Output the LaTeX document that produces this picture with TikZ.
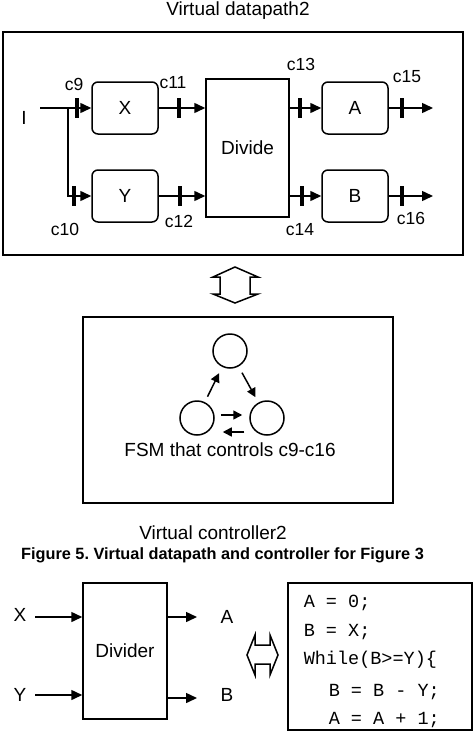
\documentclass[tikz,border=0pt]{standalone}
\usepackage{fontspec}
\setmainfont{Liberation Sans}
\setmonofont{Liberation Mono}
\usetikzlibrary{arrows.meta}
\frenchspacing

\begin{document}
\begin{tikzpicture}
        [x=1pt,y=-1pt,line width=1.5pt,
         every node/.style={font=\fontsize{19}{21}\selectfont,inner sep=0pt},
         reg/.style={draw,rounded corners=6pt,minimum width=66pt,minimum height=52pt},
         blk/.style={draw},
         bar/.style={fill=black,minimum width=4pt,minimum height=20pt},
         sig/.style={-{Triangle[length=11pt,width=10pt]}},
         fsm/.style={-{Triangle[length=9pt,width=9pt]}},
         st/.style={draw,circle,minimum size=34pt},
         lbl/.style={font=\fontsize{17.5}{19}\selectfont},
         code/.style={anchor=west,font=\ttfamily\fontsize{18.5}{20}\selectfont}]
        \useasboundingbox (0,0) rectangle (474,731);

        % virtual datapath
        \node (dptitle) at (238,11) {Virtual datapath2};
        \node[blk,line width=2pt,minimum width=460pt,minimum height=223pt] (dp) at (233,143.5) {};
        \node (I) at (24,118) {I};
        \node[reg] (X) at (125,108) {X};
        \node[reg] (Y) at (125,196) {Y};
        \node[blk,minimum width=83pt,minimum height=138pt] (div) at (247.5,148) {Divide};
        \node[reg] (A) at (355,108) {A};
        \node[reg] (B) at (355,196) {B};
        \coordinate (in) at (40,108);
        \coordinate (fork) at (68,108);
        \coordinate (outA) at (433,108);
        \coordinate (outB) at (433,196);

        \draw (in) -- (fork);
        \draw[sig] (fork) -- (X);
        \draw[sig] (fork) |- (Y);
        \draw[sig] (X) -- (X -| div.west);
        \draw[sig] (Y) -- (Y -| div.west);
        \draw[sig] (A -| div.east) -- (A);
        \draw[sig] (B -| div.east) -- (B);
        \draw[sig] (A) -- (outA);
        \draw[sig] (B) -- (outB);

        \node[bar] (bar9) at (77,108) {};
        \node[bar] (bar10) at (74,196) {};
        \node[bar] (bar11) at (179,108) {};
        \node[bar] (bar12) at (180,196) {};
        \node[bar] (bar13) at (300,108) {};
        \node[bar] (bar14) at (302,196) {};
        \node[bar] (bar15) at (402,108) {};
        \node[bar] (bar16) at (402,196) {};
        \node[lbl] (lab9) at (74,84) {c9};
        \node[lbl] (lab10) at (65,229) {c10};
        \node[lbl] (lab11) at (173,83) {c11};
        \node[lbl] (lab12) at (179,221) {c12};
        \node[lbl] (lab13) at (301,64) {c13};
        \node[lbl] (lab14) at (300,230) {c14};
        \node[lbl] (lab15) at (407,77) {c15};
        \node[lbl] (lab16) at (411,218) {c16};

        % hollow arrow between datapath and controller
        \draw (235,267) -- (258,277) -- (250,277) -- (250,294) -- (258,294) -- (235,303)
              -- (213,294) -- (220,294) -- (220,277) -- (213,277) -- cycle;

        % virtual controller
        \node[blk,minimum width=310pt,minimum height=186pt] (ctl) at (238,410) {};
        \node[st] (s1) at (230,351) {};
        \node[st] (s2) at (197,418) {};
        \node[st] (s3) at (267,418) {};
        \draw[fsm,shorten <=6pt,shorten >=7pt] (s2) -- (s1);
        \draw[fsm,shorten <=7pt,shorten >=6pt] (s1) -- (s3);
        \draw[fsm] ([xshift=6pt,yshift=3pt]s2.east) -- ([xshift=-7pt,yshift=3pt]s3.west);
        \draw[fsm] ([xshift=-5pt,yshift=-14pt]s3.west) -- ([xshift=8pt,yshift=-14pt]s2.east);
        \node (fsmtxt) at (230,450) {FSM that controls c9-c16};
        \node (ctltitle) at (213,533) {Virtual controller2};

        \node[font=\bfseries\fontsize{16.3}{18}\selectfont] (cap) at (222.5,555)
            {Figure 5. Virtual datapath and controller for Figure 3};

        % divider and its program
        \node[blk,minimum width=84pt,minimum height=136pt] (dvd) at (125,651) {Divider};
        \node (xin) at (20,615) {X};
        \node (yin) at (20,695) {Y};
        \node (aq) at (227,617) {A};
        \node (bq) at (227,695) {B};
        \coordinate (xsrc) at (35,617);
        \coordinate (ysrc) at (35,695);
        \coordinate (aout) at (197,617);
        \coordinate (bout) at (197,698);
        \draw[sig] (xsrc) -- (xsrc -| dvd.west);
        \draw[sig] (ysrc) -- (ysrc -| dvd.west);
        \draw[sig] (aout -| dvd.east) -- (aout);
        \draw[sig] (bout -| dvd.east) -- (bout);

        \draw (247,655) -- (255,635) -- (255,645) -- (270,645) -- (270,635) -- (278,655)
              -- (270,675) -- (270,664) -- (255,664) -- (255,675) -- cycle;

        \node[blk,line width=2.5pt,minimum width=184pt,minimum height=147pt] (prog) at (380,656.5) {};
        \node[code] (l1) at (303,603) {A = 0;};
        \node[code] (l2) at (303,632) {B = X;};
        \node[code] (l3) at (303,660) {While(B>=Y)\{};
        \node[code] (l4) at (328,692) {B = B - Y;};
        \node[code] (l5) at (328,720) {A = A + 1;};
    
    \end{tikzpicture}
\end{document}
